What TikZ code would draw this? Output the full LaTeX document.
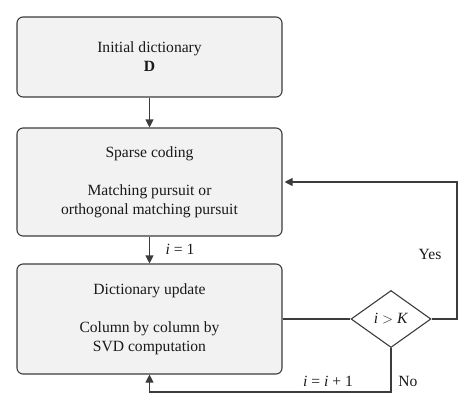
\documentclass[tikz,border=0pt]{standalone}
\usepackage{fontspec}
\setmainfont{Liberation Serif}
\usetikzlibrary{shapes.geometric,arrows.meta}
\definecolor{boxfill}{HTML}{F2F2F2}
\definecolor{linec}{HTML}{3C3C3C}
\begin{document}
\begin{tikzpicture}[x=1pt,y=-1pt,
  every node/.style={font=\fontsize{15.6}{19}\selectfont, text=black!90},
  procbox/.style={draw=linec, line width=1.1pt, fill=boxfill, rounded corners=6pt,
    minimum width=265pt, align=center, inner sep=0pt},
  decision/.style={draw=linec, line width=1.1pt, fill=white, diamond, aspect=1.4,
    minimum width=80pt, minimum height=57pt, inner sep=0pt},
  conn/.style={draw=linec, line width=1.1pt},
  arr/.style={conn, -{Triangle[length=8pt,width=8pt]}},
  lbl/.style={inner sep=0pt}]
\useasboundingbox (0,0) rectangle (474,410);
\node[procbox, minimum height=80pt] (b1) at (149.5,57) {Initial dictionary\\\textbf{D}};
\node[procbox, minimum height=108pt] (b2) at (149.5,182) {Sparse coding\\[19pt]Matching pursuit or\\orthogonal matching pursuit};
\node[procbox, minimum height=110pt] (b3) at (149.5,319) {Dictionary update\\[19pt]Column by column by\\SVD computation};
\node[decision] (d) at (391,319) {\textit{i} $>$ \textit{K}};
\coordinate (yc) at (457,319);
\coordinate (nc) at (149.5,392);
\draw[arr] (b1.south) -- (b2.north);
\draw[arr] (b2.south) -- (b3.north);
\draw[conn] (b3.east) -- (d.west);
\draw[arr, shorten >=2pt] (d.east) -- (yc) |- (b2.east);
\draw[arr] (d.south) |- (nc) -- (b3.south);
\node[lbl] (l1) at (180,249) {\textit{i} = 1};
\node[lbl] (ly) at (430,254) {Yes};
\node[lbl] (ln) at (328,381) {\textit{i} = \textit{i} + 1};
\node[lbl] (lno) at (408,381) {No};
\end{tikzpicture}
\end{document}
